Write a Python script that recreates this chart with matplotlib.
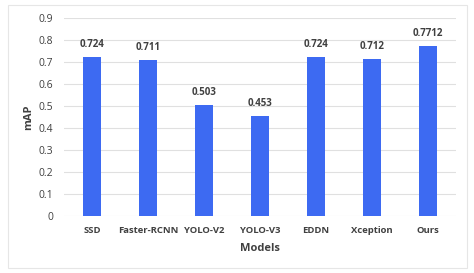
import matplotlib.pyplot as plt
from matplotlib.patches import Rectangle

models = ['SSD', 'Faster-RCNN', 'YOLO-V2', 'YOLO-V3', 'EDDN', 'Xception', 'Ours']
map_values = [0.724, 0.711, 0.503, 0.453, 0.724, 0.712, 0.7712]
value_labels = ['0.724', '0.711', '0.503', '0.453', '0.724', '0.712', '0.7712']
y_ticks = [0, 0.1, 0.2, 0.3, 0.4, 0.5, 0.6, 0.7, 0.8, 0.9]
y_tick_labels = ['0', '0.1', '0.2', '0.3', '0.4', '0.5', '0.6', '0.7', '0.8', '0.9']

text_color = '#404040'
plt.rcParams['font.family'] = ['Open Sans', 'DejaVu Sans']

fig = plt.figure(figsize=(4.74, 2.73), dpi=100)
fig.patch.set_facecolor('white')

# faint chart border
fig.add_artist(Rectangle((8 / 474, 5 / 273), 459 / 474, 263 / 273,
                         transform=fig.transFigure, fill=False,
                         edgecolor='#e6e6e6', linewidth=0.8))

ax = fig.add_axes([64 / 474, 1 - 216 / 273, 392 / 474, 198 / 273])
x = range(len(models))
ax.bar(x, map_values, width=0.31, color='#3d6af2', zorder=3)

for i, (v, lab) in enumerate(zip(map_values, value_labels)):
    ax.annotate(lab, (i, v), xytext=(0, 5), textcoords='offset points',
                ha='center', va='bottom', fontsize=7, fontweight='bold',
                color=text_color)

ax.set_xlim(-0.5, len(models) - 0.5)
ax.set_ylim(0, 0.9)
ax.set_yticks(y_ticks)
ax.set_yticklabels(y_tick_labels, fontsize=7.5, color=text_color)
ax.set_xticks(list(x))
ax.set_xticklabels(models, fontsize=6.8, fontweight='bold', color=text_color)
ax.tick_params(axis='x', length=0, pad=7)
ax.tick_params(axis='y', length=0, pad=8)
ax.yaxis.grid(True, color='#e0e0e0', linewidth=0.8, zorder=0)
for s in ax.spines.values():
    s.set_visible(False)

ax.set_xlabel('Models', fontsize=8, fontweight='bold', color=text_color, labelpad=6)
ax.set_ylabel('mAP', fontsize=8, fontweight='bold', color=text_color, labelpad=3)

plt.savefig('out.png', dpi=100)
